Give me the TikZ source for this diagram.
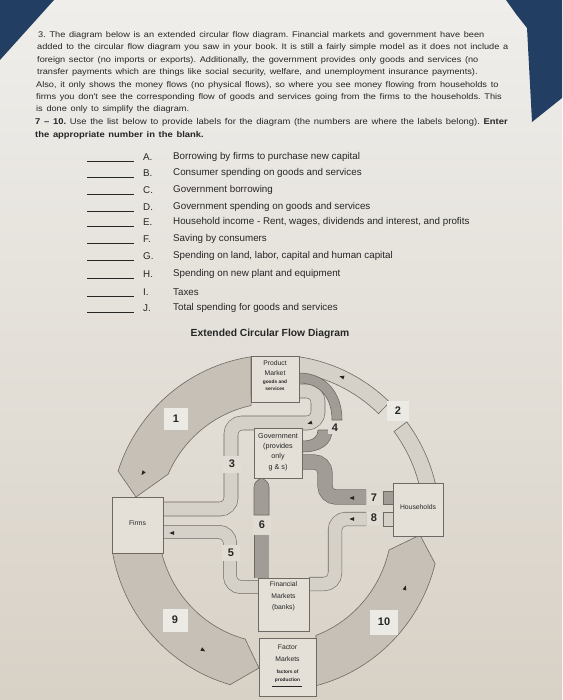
\documentclass[tikz,border=0pt]{standalone}
\usepackage{fontspec}
\setmainfont{Liberation Sans}
\newfontfamily\parafont{Liberation Sans}[FakeStretch=1.12]
\usetikzlibrary{calc}
\definecolor{paperTop}{HTML}{EFEEEB}
\definecolor{paperBot}{HTML}{D8D1C6}
\definecolor{deskblue}{HTML}{233E63}
\definecolor{ink}{HTML}{262626}
\definecolor{ringfill}{HTML}{C6C0B6}
\definecolor{ringlight}{HTML}{D5D0C8}
\definecolor{darkband}{HTML}{A19C95}
\definecolor{edgecol}{HTML}{6E6962}
\definecolor{boxfill}{HTML}{E4E0D8}
\definecolor{tagwhite}{HTML}{ECEAE5}
\definecolor{tagpaper}{HTML}{E1DDD5}
\newcommand\sg{\hspace*{0pt}}
\makeatletter
\newcommand\tiltline[5]{%
  \def\tl@slope{#3}%
  \tikzset{wordst/.style={anchor=base west,inner sep=0pt,text=ink,font=\parafont\fontsize{#4}{10}\selectfont}}%
  \coordinate (cur) at (#1,#2);%
  \tl@do#5 \@nil}
\def\tl@do#1 #2\@nil{%
  \path let \p1=(cur) in node[wordst] (tw) at (\p1) {#1};%
  \path let \p1=(tw.base west), \p2=(tw.base east) in coordinate (cur) at ({\x2+3.3pt}, {\y2-\tl@slope*(\x2-\x1+3.3pt)});%
  \if\relax\detokenize{#2}\relax\else\tl@do#2\@nil\fi}
\makeatother
\begin{document}
\begin{tikzpicture}[x=1pt,y=-1pt,
  listtxt/.style={anchor=west,inner sep=0pt,text=ink,font=\fontsize{9.8}{10}\selectfont},
  blank/.style={draw=ink,line width=0.6pt},
  ringband/.style={fill=ringfill,draw=edgecol,line width=0.6pt},
  ringbandlt/.style={fill=ringlight,draw=edgecol,line width=0.6pt},
  darkshape/.style={fill=darkband,draw=edgecol,line width=0.6pt},
  lightshape/.style={fill=ringlight,draw=edgecol,line width=0.6pt},
  lband/.style={draw=ringlight,line width=#1,rounded corners=11,preaction={draw=edgecol,line width=#1+1.2pt}},
  dband/.style={draw=darkband,line width=#1,rounded corners=11,preaction={draw=edgecol,line width=#1+1.2pt}},
  mkt/.style={draw=edgecol,line width=0.6pt,fill=boxfill,inner sep=0pt},
  boxtxt/.style={inner sep=0pt,text=ink,font=\fontsize{6.8}{7}\selectfont},
  tinytxt/.style={inner sep=0pt,text=ink,font=\bfseries\fontsize{4.8}{5}\selectfont},
  tagw/.style={fill=tagwhite,inner sep=1pt,font=\bfseries\fontsize{11}{11}\selectfont,text=ink},
  tagp/.style={fill=tagpaper,inner sep=1pt,font=\bfseries\fontsize{11}{11}\selectfont,text=ink}
]
\useasboundingbox (0,0) rectangle (562,700);
\shade[top color=paperTop,bottom color=paperBot] (0,0) rectangle (562,700);
\fill[deskblue] (0,0) -- (54,0) -- (0,60) -- cycle;
\fill[deskblue] (506,0) -- (562,0) -- (562,98) -- (532,122) -- (527,28) -- (516,14) -- cycle;

% paragraph
\tiltline{38}{37.5}{0}{8.2}{3. The diagram below is an extended circular flow diagram. \sg Financial markets and government have been}
\tiltline{37}{49.9}{0}{8.2}{added to the circular flow diagram you saw in your book. \sg It is still a fairly simple model as it does not include a}
\tiltline{37}{62.3}{0}{8.2}{foreign sector (no imports or exports). \sg Additionally, the government provides only goods and services (no}
\tiltline{37}{74.7}{0}{8.2}{transfer payments which are things like social security, welfare, and unemployment insurance payments).}
\tiltline{36}{87.1}{0}{8.2}{Also, it only shows the money flows (no physical flows), so where you see money flowing from households to}
\tiltline{36}{99.5}{0}{8.2}{firms you don't see the corresponding flow of goods and services going from the firms to the households. \sg This}
\tiltline{36}{111.9}{0}{8.2}{is done only to simplify the diagram.}
\tiltline{35}{124.6}{0}{8.4}{\textbf{7} \textbf{–} \textbf{10.} \sg Use the list below to provide labels for the diagram (the numbers are where the labels belong). \sg \textbf{Enter}}
\tiltline{35}{137.4}{0}{8.4}{\textbf{the} \textbf{appropriate} \textbf{number} \textbf{in} \textbf{the} \textbf{blank.}}

% list
\foreach \lt/\tx/\yy [count=\i] in {A./Borrowing by firms to purchase new capital/157,
  B./Consumer spending on goods and services/173,
  C./Government borrowing/190,
  D./Government spending on goods and services/207,
  E./{Household income - Rent, wages, dividends and interest, and profits}/222,
  F./Saving by consumers/239,
  G./{Spending on land, labor, capital and human capital}/256,
  H./Spending on new plant and equipment/274,
  I./Taxes/292,
  J./Total spending for goods and services/308}{
  \node[listtxt] (let\i) at (143,\yy) {\lt};
  \node[listtxt] (itm\i) at (173,\yy) {\tx};
  \draw[blank] (87,\yy+4) -- (134,\yy+4);
}

\node[font=\bfseries\fontsize{10.3}{11}\selectfont,text=ink,inner sep=0pt] (title) at (270,334) {Extended Circular Flow Diagram};

% box anchors
\path (275,379) node[minimum width=48pt,minimum height=46pt,inner sep=0pt] (pm) {};
\path (278,453) node[minimum width=48pt,minimum height=50pt,inner sep=0pt] (gov) {};
\path (418,509.5) node[minimum width=50pt,minimum height=53pt,inner sep=0pt] (hh) {};
\path (137.5,525) node[minimum width=51pt,minimum height=56pt,inner sep=0pt] (firms) {};
\path (283.5,604.5) node[minimum width=51pt,minimum height=53pt,inner sep=0pt] (fin) {};
\path (287.5,667) node[minimum width=57pt,minimum height=58pt,inner sep=0pt] (fac) {};

% ring bands
\path[ringband] ([shift={(275,523)}]261.6:165 and 168) arc[start angle=261.6,end angle=198,x radius=165,y radius=168]
  -- (136,497) -- ([shift={(275,523)}]204:117 and 120) arc[start angle=204,end angle=258.2,x radius=117,y radius=120] -- cycle;
\path[ringbandlt] ([shift={(275,523)}]278.4:165 and 168) arc[start angle=278.4,end angle=314,x radius=165,y radius=168]
  -- ([shift={(275,523)}]314:149 and 152) arc[start angle=314,end angle=278.4,x radius=149,y radius=152] -- cycle;
\path[ringbandlt] ([shift={(275,523)}]323:165 and 168) arc[start angle=323,end angle=346.2,x radius=165,y radius=168]
  -- ([shift={(275,523)}]346.2:149 and 152) arc[start angle=346.2,end angle=323,x radius=149,y radius=152] -- cycle;
\path[ringband] ([shift={(275,523)}]169.7:165 and 168) arc[start angle=169.7,end angle=105.8,x radius=165,y radius=168]
  -- (259,668) -- ([shift={(275,523)}]104.8:117 and 120) arc[start angle=104.8,end angle=165.5,x radius=117,y radius=120] -- cycle;
\path[ringband] ([shift={(275,523)}]75.6:165 and 168) arc[start angle=75.6,end angle=14,x radius=165,y radius=168]
  -- (420,535) -- ([shift={(275,523)}]13:117 and 120) arc[start angle=13,end angle=69.5,x radius=117,y radius=120] -- cycle;

% inner bands
\draw[lband=13.4pt] (pm.east |- 0,391) -- (318,391) -- (318,423) -- (231,423) -- (231,509) -- (firms.east |- 0,509);
\draw[lband=12.6pt] (firms.east |- 0,532) -- (230,532) -- (230,587) -- (fin.west |- 0,587);
\draw[lband=13pt] (366,519) -- (335,519) -- (335,584) -- (fin.east |- 0,584);
\path[lightshape] (383,512) rectangle (hh.west |- 0,526);
\draw[dband=14pt] (gov.east |- 0,462) -- (325,462) -- (325,497) -- (366,497);
\path[darkshape] (383,491) rectangle (hh.west |- 0,504);
\draw[dband=14pt] (261.5,0 |- fin.north) -- (261.5,535);
\path[darkshape] (254,515) -- (254,487) .. controls (254,482) and (258,480) .. (261.5,478)
  .. controls (265,480) and (269,482) .. (269,487) -- (269,515) -- cycle;
\path[darkshape] (299,373) .. controls (325,373) and (342,392) .. (342,420) -- (332,420)
  .. controls (332,398) and (320,383) .. (299,383) -- cycle;
\path[darkshape] (332,430) .. controls (332,445) and (320,452) .. (302,452) -- (302,441)
  .. controls (313,441) and (318,437) .. (318,430) -- cycle;

% boxes
\node[mkt,minimum width=48pt,minimum height=46pt] (pmb) at (pm) {};
\node[mkt,minimum width=48pt,minimum height=50pt] (govb) at (gov) {};
\node[mkt,minimum width=50pt,minimum height=53pt] (hhb) at (hh) {};
\node[mkt,minimum width=51pt,minimum height=56pt] (firmsb) at (firms) {};
\node[mkt,minimum width=51pt,minimum height=53pt] (finb) at (fin) {};
\node[mkt,minimum width=57pt,minimum height=58pt] (facb) at (fac) {};

\node[boxtxt] (pm1) at (275,363) {Product};
\node[boxtxt] (pm2) at (275,373) {Market};
\node[tinytxt] (pm3) at (275,382) {goods and};
\node[tinytxt] (pm4) at (275,389) {services};
\node[boxtxt,font=\fontsize{7.2}{8}\selectfont] (g1) at (278,436) {Government};
\node[boxtxt,font=\fontsize{7.2}{8}\selectfont] (g2) at (278,446.5) {(provides};
\node[boxtxt,font=\fontsize{7.2}{8}\selectfont] (g3) at (278,457) {only};
\node[boxtxt,font=\fontsize{7.2}{8}\selectfont] (g4) at (278,467.5) {g \& s)};
\node[boxtxt] (h1) at (418,507) {Households};
\node[boxtxt] (f1) at (137.5,523) {Firms};
\node[boxtxt] (fm1) at (283.5,584) {Financial};
\node[boxtxt] (fm2) at (283.5,596) {Markets};
\node[boxtxt] (fm3) at (283.5,608) {(banks)};
\node[boxtxt] (fa1) at (287.5,647) {Factor};
\node[boxtxt] (fa2) at (287.5,659) {Markets};
\node[tinytxt] (fa3) at (287.5,672) {factors of};
\node[tinytxt] (fa4) at (287.5,680) {production};
\draw[ink,line width=0.5pt] (272,686) -- (302,686);

% number tags
\node[tagw,minimum width=24pt,minimum height=22pt] (t1) at (176,419) {1};
\node[tagw,minimum width=22pt,minimum height=20pt] (t2) at (398,411) {2};
\node[tagp,minimum width=18pt,minimum height=17pt] (t3) at (232,464) {3};
\node[tagp,minimum width=14pt,minimum height=11pt] (t4) at (335,428) {4};
\node[tagp,minimum width=18pt,minimum height=16pt] (t5) at (231,553) {5};
\node[tagp,minimum width=18pt,minimum height=18pt] (t6) at (262,525) {6};
\node[tagp,minimum width=14pt,minimum height=13pt] (t7) at (374,498) {7};
\node[tagp,minimum width=14pt,minimum height=13pt] (t8) at (374,518) {8};
\node[tagw,minimum width=25pt,minimum height=23pt] (t9) at (175,620) {9};
\node[tagw,minimum width=28pt,minimum height=25pt] (t10) at (384,622) {10};

% direction markers
\foreach \mx/\my/\ma in {143/473/235, 342/377/165, 310/423/195, 172/533/180, 352/498/180, 352/519/180, 203/650/330, 405/588/75}{
  \fill[ink,shift={(\mx,\my)},rotate=\ma] (2.6,0) -- (-2,1.9) -- (-2,-1.9) -- cycle;
}
\end{tikzpicture}
\end{document}
